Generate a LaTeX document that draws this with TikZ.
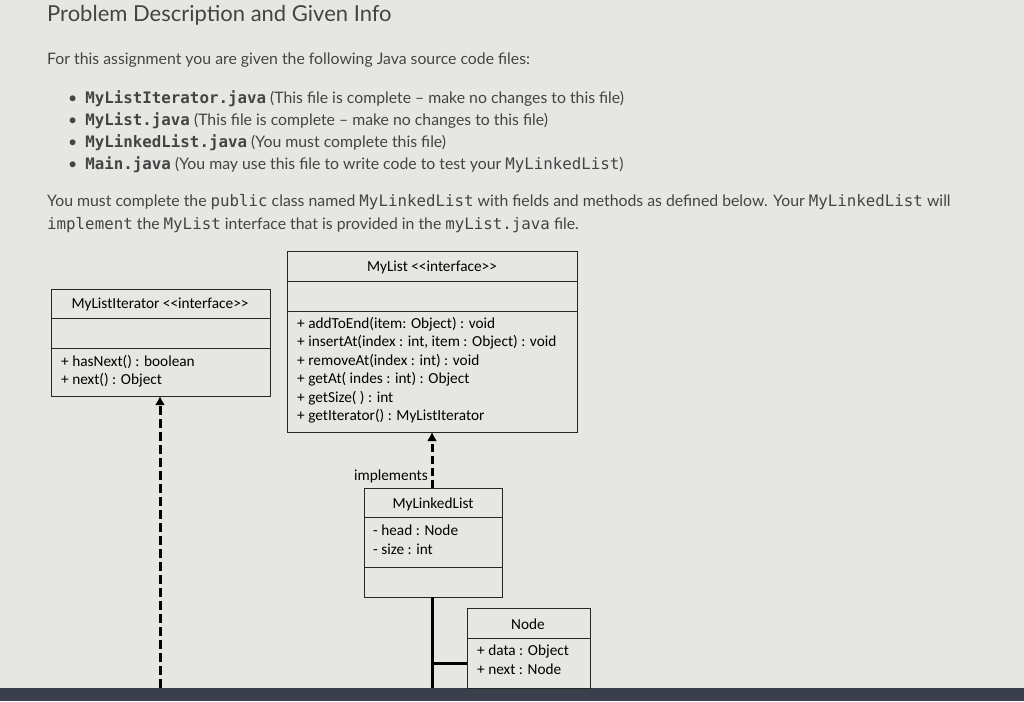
\documentclass[tikz,border=0pt]{standalone}
\usepackage{fontspec}
\usetikzlibrary{arrows.meta}
\setmainfont{Lato}
\newfontfamily\boxfont{Carlito}
\setmonofont{DejaVu Sans Mono}
\definecolor{bg}{HTML}{E6E6E3}
\definecolor{txt}{HTML}{444444}
\definecolor{band}{HTML}{3A3F4C}
\begin{document}
\begin{tikzpicture}[x=1pt,y=-1pt,
  cell/.style={draw=black!85,line width=1pt,fill=bg},
  bt/.style={font=\boxfont\fontsize{15.3}{18.5}\selectfont,text=black,inner sep=0pt},
  para/.style={anchor=west,font=\fontsize{15.8}{18}\selectfont,text=txt,inner sep=0pt}]
\fill[bg] (0,0) rectangle (1024,701);
\useasboundingbox (0,0) rectangle (1024,701);
\fill[band] (0,688) rectangle (1024,701);
\node[para,font=\fontsize{22}{25}\selectfont] (title) at (47,15) {Problem Description and Given Info};
\node[para] (intro) at (47,60) {For this assignment you are given the following Java source code files:};
\node[para] (b1) at (68,99) {\textbullet\hspace{8pt}{\ttfamily\bfseries MyListIterator.java} (This file is complete -- make no changes to this file)};
\node[para] (b2) at (68,121) {\textbullet\hspace{8pt}{\ttfamily\bfseries MyList.java} (This file is complete -- make no changes to this file)};
\node[para] (b3) at (68,143) {\textbullet\hspace{8pt}{\ttfamily\bfseries MyLinkedList.java} (You must complete this file)};
\node[para] (b4) at (68,165) {\textbullet\hspace{8pt}{\ttfamily\bfseries Main.java} (You may use this file to write code to test your {\ttfamily MyLinkedList})};
\node[para] (p1) at (47,202) {You must complete the {\ttfamily public} class named {\ttfamily MyLinkedList} with fields and methods as defined below. Your {\ttfamily MyLinkedList} will};
\node[para] (p2) at (47,225) {{\ttfamily implement} the {\ttfamily MyList} interface that is provided in the {\ttfamily myList.java} file.};
% MyList
\draw[cell] (287,251) rectangle (577,281);
\draw[cell] (287,281) rectangle (577,311);
\draw[cell] (287,311) rectangle (577,432);
\node[bt] (mlt) at (432,267) {MyList <<interface>>};
\node[bt,anchor=north west,align=left] (mlm) at (297,317) {+ addToEnd(item: Object) : void\\+ insertAt(index : int, item : Object) : void\\+ removeAt(index : int) : void\\+ getAt( indes : int) : Object\\+ getSize( ) : int\\+ getIterator() : MyListIterator};
% Iterator
\draw[cell] (51,289) rectangle (270,318);
\draw[cell] (51,318) rectangle (270,348);
\draw[cell] (51,348) rectangle (270,396);
\node[bt] (itt) at (160,304) {MyListIterator <<interface>>};
\node[bt,anchor=north west,align=left] (itm) at (61,355) {+ hasNext() : boolean\\+ next() : Object};
% MyLinkedList
\draw[cell] (364,488) rectangle (502,517);
\draw[cell] (364,517) rectangle (502,567);
\draw[cell] (364,567) rectangle (502,597);
\node[bt] (llt) at (433,504) {MyLinkedList};
\node[bt,anchor=north west,align=left] (lla) at (373,525) {- head : Node\\- size : int};
% Node
\draw[cell] (467,608) rectangle (590,638);
\draw[cell] (467,638) rectangle (590,688);
\node[bt] (nt) at (528,624) {Node};
\node[bt,anchor=north west,align=left] (na) at (477,645) {+ data : Object\\+ next : Node};
% connectors
\coordinate (impTop) at (432,432);
\coordinate (impBot) at (432,488);
\draw[line width=3pt,dash pattern=on 8pt off 4pt,-{Latex[length=9pt,width=10pt]}] (impBot) -- (impTop);
\node[bt,anchor=east] (impl) at (428,476) {implements};
\coordinate (itTop) at (160,396);
\coordinate (itBot) at (160,688);
\draw[line width=3pt,dash pattern=on 9pt off 4pt,-{Latex[length=9pt,width=10pt]}] (itBot) -- (itTop);
\coordinate (llBot) at (432,597);
\coordinate (llEnd) at (432,688);
\coordinate (br) at (432,663);
\coordinate (nodeL) at (467,663);
\draw[line width=3pt] (llBot) -- (llEnd);
\draw[line width=3pt] (br) -- (nodeL);
\end{tikzpicture}
\end{document}
